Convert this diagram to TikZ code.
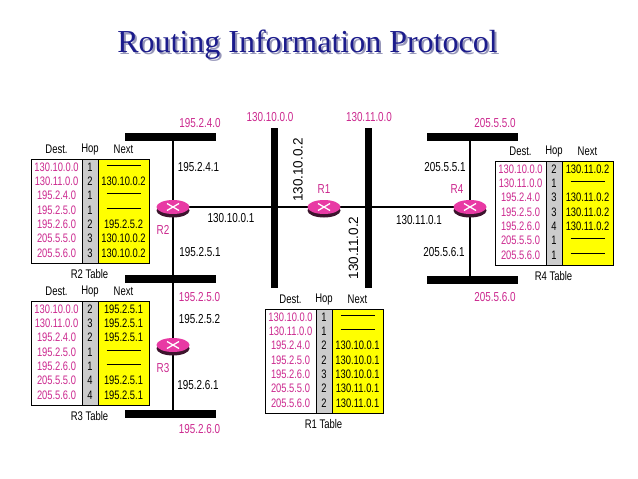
\documentclass[tikz,border=0pt]{standalone}
\usepackage{fontspec}
\setmainfont{Liberation Serif}
\newfontfamily\tabfont[FakeStretch=0.76]{Liberation Sans}
\newfontfamily\rotfont{Liberation Sans}
\usetikzlibrary{shapes.geometric}

\definecolor{ipmagenta}{RGB}{204,41,143}
\definecolor{routerpink}{RGB}{232,58,164}
\definecolor{routerdark}{RGB}{60,20,45}
\definecolor{hopgray}{RGB}{204,204,204}
\definecolor{nextyellow}{RGB}{255,255,0}
\definecolor{titleblue}{RGB}{28,28,140}
\definecolor{titleshade}{RGB}{150,150,185}

\tikzset{
	wire/.style={line width=0.4mm},
	hbus/.style={fill=black, inner sep=0, minimum width=91pt, minimum height=8pt},
	vbus/.style={fill=black, inner sep=0, minimum width=7pt, minimum height=160pt},
	netlbl/.style={text=ipmagenta, inner sep=0, font=\tabfont\fontsize{13}{15}\selectfont},
	iplbl/.style={inner sep=0, font=\tabfont\fontsize{13}{15}\selectfont},
	rotlbl/.style={inner sep=0, rotate=90, font=\rotfont\fontsize{13.5}{15}\selectfont},
	head/.style={inner sep=0, font=\tabfont\fontsize{12.5}{14}\selectfont},
	cell/.style={inner sep=0, font=\tabfont\fontsize{12.3}{14}\selectfont},
	dest/.style={cell, text=ipmagenta},
}

% no next hop
\def\nh{\rule[0.3em]{34pt}{0.9pt}}
% title text with its shade behind
\def\shaded#1{\makebox[0pt][l]{\hspace{2pt}\raisebox{-1.5pt}[0pt][0pt]{\color{titleshade}#1}}#1}
% router drawn at a named coordinate
\def\router#1{%
	\fill[routerdark] ([yshift=-3.5pt]#1) ellipse (16.5 and 7);
	\fill[routerpink] (#1) ellipse (16.5 and 7);
	\draw[white, line width=0.45mm] ([xshift=-6pt, yshift=3.5pt]#1) -- ([xshift=6pt, yshift=-3.5pt]#1);
	\draw[white, line width=0.45mm] ([xshift=-6pt, yshift=-3.5pt]#1) -- ([xshift=6pt, yshift=3.5pt]#1);
}
% routing table: name, x, y (top left), rows dest/hop/next
\def\rtable#1#2#3#4{%
	\draw[line width=0.3mm, fill=white] (#2,#3) rectangle ++(51,104);
	\draw[line width=0.3mm, fill=hopgray] (#2+51,#3) rectangle ++(16,104);
	\draw[line width=0.3mm, fill=nextyellow] (#2+67,#3) rectangle ++(51,104);
	\node[head] (#1dh) at (#2+25.5,#3-10) {Dest.};
	\node[head] (#1hh) at (#2+59,#3-10) {Hop};
	\node[head] (#1nh) at (#2+92.5,#3-10) {Next};
	\foreach \d/\h/\n [count=\i] in {#4} {
		\node[dest] (#1d\i) at (#2+25.5,#3+8+14.33*\i-14.33) {\d};
		\node[cell] (#1h\i) at (#2+59,#3+8+14.33*\i-14.33) {\h};
		\node[cell] (#1n\i) at (#2+92.5,#3+8+14.33*\i-14.33) {\n};
	}
	\node[head] (#1cap) at (#2+58.5,#3+115) {#1 Table};
}

\begin{document}
\begin{tikzpicture}[x=1pt, y=-1pt]
	%%%%% START %%%%%
	\useasboundingbox[fill=white] (0,0) rectangle (638,479);
	
	\node[inner sep=0, text=titleblue, font=\fontsize{32}{36}\selectfont] (title) at (307.5,45) {\shaded{Routing Information Protocol}};
	
	% networks
	\node[hbus] (b1954) at (170.5,137) {};
	\node[hbus] (b1955) at (170.5,279) {};
	\node[hbus] (b1956) at (170.5,414) {};
	\node[hbus] (b2055) at (472.5,137) {};
	\node[hbus] (b2056) at (472.5,280) {};
	\node[vbus] (b13010) at (274.5,208) {};
	\node[vbus] (b13011) at (368.5,208) {};
	
	\coordinate (R2) at (173,207);
	\coordinate (R1) at (324,207);
	\coordinate (R4) at (470,207);
	\coordinate (R3) at (173,345);
	
	\draw[wire] (R2) -- (R1) -- (R4);
	\draw[wire] (R2) -- (R2 |- b1954);
	\draw[wire] (R2) -- (R2 |- b1955);
	\draw[wire] (R3) -- (R3 |- b1955);
	\draw[wire] (R3) -- (R3 |- b1956);
	\draw[wire] (R4) -- (R4 |- b2055);
	\draw[wire] (R4) -- (R4 |- b2056);
	
	\router{R2}
	\router{R1}
	\router{R4}
	\router{R3}
	
	\node[netlbl] (R2lbl) at (163,230) {R2};
	\node[netlbl] (R1lbl) at (324,189) {R1};
	\node[netlbl] (R4lbl) at (457,189) {R4};
	\node[netlbl] (R3lbl) at (163,368) {R3};
	
	% network addresses
	\node[netlbl] (n1954) at (200,123) {195.2.4.0};
	\node[netlbl] (n13010) at (270,117) {130.10.0.0};
	\node[netlbl] (n13011) at (369,117) {130.11.0.0};
	\node[netlbl] (n2055) at (495,123) {205.5.5.0};
	\node[netlbl] (n2056) at (495,297) {205.5.6.0};
	\node[netlbl] (n1955) at (199.5,297) {195.2.5.0};
	\node[netlbl] (n1956) at (199.5,429) {195.2.6.0};
	
	% interface addresses
	\node[iplbl] (i19541) at (198.5,167) {195.2.4.1};
	\node[iplbl] (i130101) at (231,218) {130.10.0.1};
	\node[iplbl] (i19551) at (200,252) {195.2.5.1};
	\node[iplbl] (i19552) at (199.5,319) {195.2.5.2};
	\node[iplbl] (i19561) at (198,385) {195.2.6.1};
	\node[iplbl] (i130111) at (419,220) {130.11.0.1};
	\node[iplbl] (i20551) at (445,167) {205.5.5.1};
	\node[iplbl] (i20561) at (444,252) {205.5.6.1};
	\node[rotlbl] (i130102) at (298,170) {130.10.0.2};
	\node[rotlbl] (i130112) at (353.5,248) {130.11.0.2};
	
	% tables
	\rtable{R2}{31}{159}{130.10.0.0/1/\nh, 130.11.0.0/2/130.10.0.2, 195.2.4.0/1/\nh, 195.2.5.0/1/\nh, 195.2.6.0/2/195.2.5.2, 205.5.5.0/3/130.10.0.2, 205.5.6.0/3/130.10.0.2}
	\rtable{R3}{31}{301}{130.10.0.0/2/195.2.5.1, 130.11.0.0/3/195.2.5.1, 195.2.4.0/2/195.2.5.1, 195.2.5.0/1/\nh, 195.2.6.0/1/\nh, 205.5.5.0/4/195.2.5.1, 205.5.6.0/4/195.2.5.1}
	\rtable{R1}{265}{309}{130.10.0.0/1/\nh, 130.11.0.0/1/\nh, 195.2.4.0/2/130.10.0.1, 195.2.5.0/2/130.10.0.1, 195.2.6.0/3/130.10.0.1, 205.5.5.0/2/130.11.0.1, 205.5.6.0/2/130.11.0.1}
	\rtable{R4}{495}{161}{130.10.0.0/2/130.11.0.2, 130.11.0.0/1/\nh, 195.2.4.0/3/130.11.0.2, 195.2.5.0/3/130.11.0.2, 195.2.6.0/4/130.11.0.2, 205.5.5.0/1/\nh, 205.5.6.0/1/\nh}
	
	%%%%% END %%%%%
\end{tikzpicture}
\end{document}
